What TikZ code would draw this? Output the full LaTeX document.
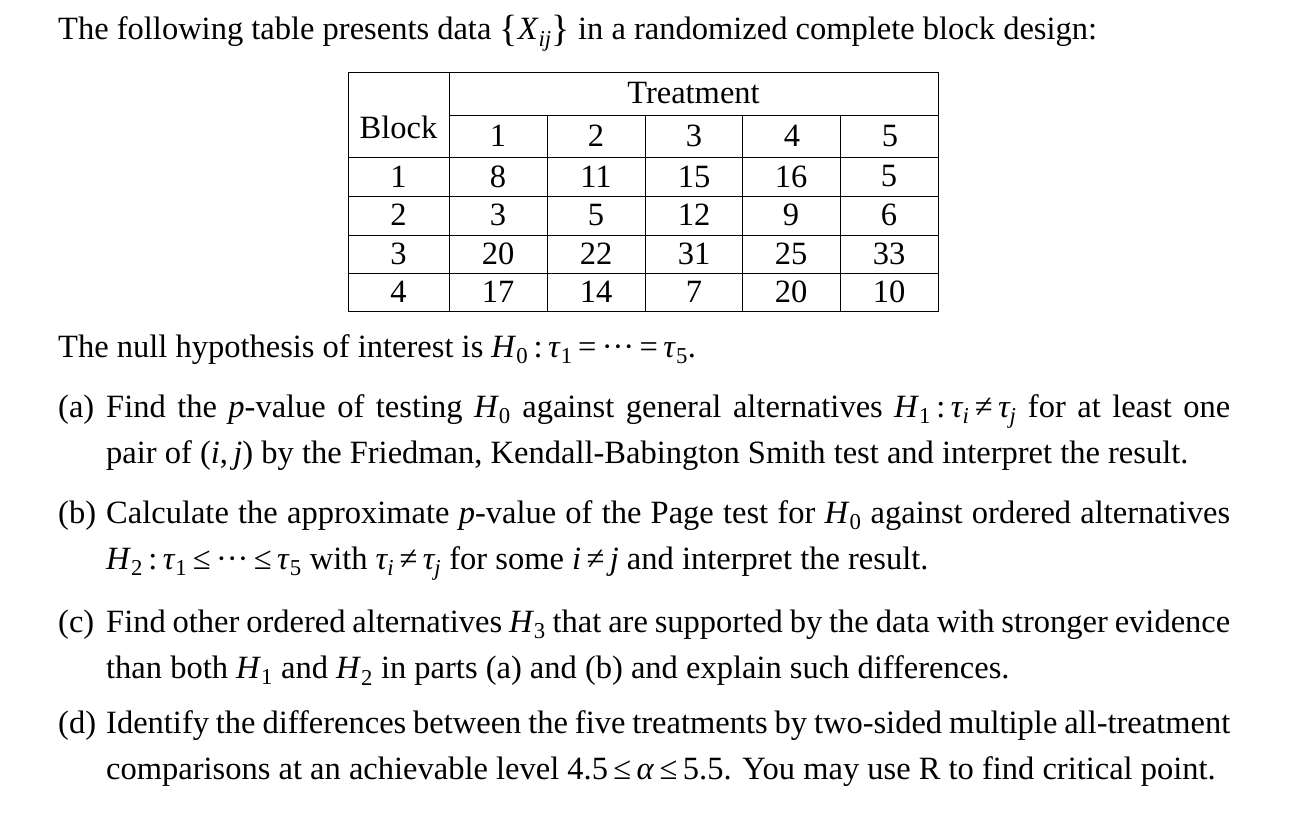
\documentclass[tikz,border=0pt]{standalone}
\usepackage{fontspec}
\setmainfont{Liberation Serif}
\newcommand{\vi}[1]{\textit{#1}}
\newcommand{\sbs}[1]{\textsubscript{#1}}
\newcommand{\bigbr}[1]{{\fontsize{38}{38}\selectfont\raisebox{-2pt}{#1}}}
\begin{document}
\begin{tikzpicture}[x=1pt,y=-1pt,
  txt/.style={anchor=base west,inner sep=0pt,font=\fontsize{32.5}{46.5}\selectfont},
  par/.style={txt,text width=1124pt,align=justify},
  cell/.style={inner sep=0pt,font=\fontsize{32.5}{34}\selectfont},
  grid/.style={line width=0.8pt}]
\useasboundingbox (0,0) rectangle (1308,824);
\node[txt] (t0) at (58,40) {The following table presents data \bigbr{\{}\vi{X}\sbs{\vi{ij}}\bigbr{\}} in a randomized complete block design:};
% table
\draw[grid] (348,72) rectangle (938,311);
\draw[grid] (449,115) -- (938,115);
\foreach \y in {157,196,235,273} \draw[grid] (348,\y) -- (938,\y);
\draw[grid] (449,72) -- (449,311);
\foreach \x in {547,645,742,840} \draw[grid] (\x,115) -- (\x,311);
\node[cell] (tr) at (693.5,93) {Treatment};
\node[cell] (bl) at (398.5,127) {Block};
\foreach \v [count=\i] in {1,2,3,4,5} {
  \pgfmathsetmacro\cx{449+98*(\i-1)+49}
  \node[cell] (h\i) at (\cx,136) {\v};}
\foreach \r/\a/\b/\c/\d/\e [count=\j] in {1/8/11/15/16/5,2/3/5/12/9/6,3/20/22/31/25/33,4/17/14/7/20/10}{
  \pgfmathsetmacro\cy{157+38.5*(\j-1)+19.5}
  \node[cell] (r\j) at (398.5,\cy) {\r};
  \node[cell] (c\j a) at (498,\cy) {\a};
  \node[cell] (c\j b) at (596,\cy) {\b};
  \node[cell] (c\j c) at (694,\cy) {\c};
  \node[cell] (c\j d) at (791,\cy) {\d};
  \node[cell] (c\j e) at (889,\cy) {\e};}
\node[txt] (nh) at (58,357) {The null hypothesis of interest is \vi{H}\sbs{0}\,:\,\vi{τ}\sbs{1}\,=\,···\,=\,\vi{τ}\sbs{5}.};
\node[txt] (la) at (58,417) {(a)};
\node[par] (pa) at (106,417) {Find the \vi{p}-value of testing \vi{H}\sbs{0} against general alternatives \vi{H}\sbs{1}\,:\,\vi{τ\sbs{i}}\,≠\,\vi{τ\sbs{j}} for at least one\linebreak pair of (\vi{i},\,\vi{j}) by the Friedman, Kendall-Babington Smith test and interpret the result.};
\node[txt] (lb) at (58,523) {(b)};
\node[par] (pb) at (106,523) {Calculate the approximate \vi{p}-value of the Page test for \vi{H}\sbs{0} against ordered alternatives\linebreak \vi{H}\sbs{2}\,:\,\vi{τ}\sbs{1}\,≤\,···\,≤\,\vi{τ}\sbs{5} with \vi{τ\sbs{i}}\,≠\,\vi{τ\sbs{j}} for some \vi{i}\,≠\,\vi{j} and interpret the result.};
\node[txt] (lc) at (58,632) {(c)};
\node[par] (pc) at (106,632) {Find other ordered alternatives \vi{H}\sbs{3} that are supported by the data with stronger evidence\linebreak than both \vi{H}\sbs{1} and \vi{H}\sbs{2} in parts (a) and (b) and explain such differences.};
\node[txt] (ld) at (58,733) {(d)};
\node[par] (pd) at (106,733) {Identify the differences between the five treatments by two-sided multiple all-treatment\linebreak comparisons at an achievable level 4.5\,≤\,\vi{α}\,≤\,5.5. You may use R to find critical point.};
\end{tikzpicture}
\end{document}
